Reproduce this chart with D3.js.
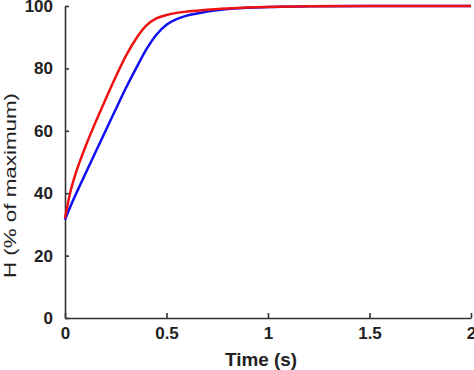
<!DOCTYPE html>
<html>
<head>
<meta charset="utf-8">
<script src="https://cdn.jsdelivr.net/npm/d3@7"></script>
<style>
  body { margin: 0; background: #fff; }
  svg { display: block; }
  .tick text { font-family: "Liberation Sans", Arial, sans-serif; font-weight: bold; font-size: 17px; fill: #222; }
  .domain, .tick line { stroke: #333; stroke-width: 1.6; }
</style>
</head>
<body>
<svg id="chart" width="474" height="370"></svg>
<script>
const time = [0, 0.025, 0.05, 0.075, 0.1, 0.15, 0.2, 0.25, 0.3, 0.35, 0.4, 0.45, 0.5, 0.55, 0.6, 0.7, 0.8, 0.9, 1.0, 1.2, 1.5, 2.0];
const redH = [32, 40, 45.8, 50.5, 54.8, 62.7, 70.1, 77.3, 84, 89.5, 93.7, 96, 97.1, 97.8, 98.2, 98.8, 99.2, 99.5, 99.7, 99.9, 100, 100];
const blueH = [31.5, 35.5, 39.2, 42.7, 46.2, 53.1, 60, 66.9, 73.7, 80, 86, 90.8, 94, 95.8, 96.9, 98.2, 99, 99.4, 99.7, 99.9, 100, 100];
const xTicks = [0, 0.5, 1, 1.5, 2];
const yTicks = [0, 20, 40, 60, 80, 100];

const margin = { top: 6, right: 3, bottom: 52, left: 65 };
const width = 474 - margin.left - margin.right,
  height = 370 - margin.top - margin.bottom;

const $svg = d3.select("#chart");
const g = $svg.append("g").attr("transform", `translate(${margin.left},${margin.top})`);

const x = d3.scaleLinear().domain([0, 2]).range([0, width]);
const y = d3.scaleLinear().domain([0, 100]).range([height, 0]);

g.append("g")
  .attr("transform", `translate(0,${height})`)
  .call(d3.axisBottom(x).tickValues(xTicks).tickFormat(d3.format("")).tickSizeInner(-5).tickSizeOuter(0).tickPadding(9));

g.append("g")
  .call(d3.axisLeft(y).tickValues(yTicks).tickSizeInner(-4).tickSizeOuter(0).tickPadding(12));

const line = d3.line()
  .x((d, i) => x(time[i]))
  .y(d => y(d))
  .curve(d3.curveMonotoneX);

g.append("path").datum(blueH)
  .attr("fill", "none").attr("stroke", "#1010f0").attr("stroke-width", 2.5)
  .attr("d", line);
g.append("path").datum(redH)
  .attr("fill", "none").attr("stroke", "#ee1111").attr("stroke-width", 2.5)
  .attr("d", line);

$svg.append("text")
  .attr("x", 261).attr("y", 366)
  .attr("text-anchor", "middle")
  .attr("textLength", 72).attr("lengthAdjust", "spacingAndGlyphs")
  .style("font-family", "Liberation Sans, Arial, sans-serif")
  .style("font-weight", "bold").style("font-size", "18px").style("fill", "#222")
  .text("Time (s)");

$svg.append("text")
  .attr("transform", "translate(16,185.5) rotate(-90)")
  .attr("text-anchor", "middle")
  .attr("textLength", 185).attr("lengthAdjust", "spacingAndGlyphs")
  .style("font-family", "Liberation Sans, Arial, sans-serif")
  .style("font-size", "17px").style("fill", "#222")
  .text("H (% of maximum)");
</script>
</body>
</html>
